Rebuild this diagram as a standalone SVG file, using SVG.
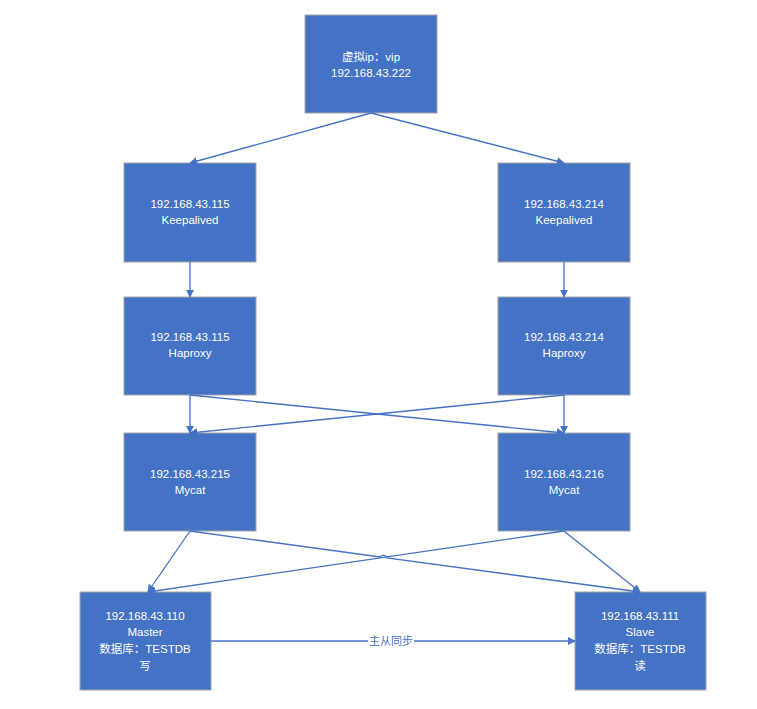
<svg xmlns="http://www.w3.org/2000/svg" width="757" height="709" viewBox="0 0 757 709">
<style>
.n{fill:#4472C4;stroke:#A5A5A5;stroke-width:1}
.t{font-family:"Liberation Sans","Noto Sans CJK SC",sans-serif;font-size:11.5px;fill:#fff;text-anchor:middle}
.c{stroke:#4472C4;stroke-width:1.3;fill:none;marker-end:url(#a)}
</style>
<defs><marker id="a" viewBox="0 0 10 10" refX="9" refY="5" markerWidth="8" markerHeight="8" orient="auto" markerUnits="userSpaceOnUse"><path d="M0,0L10,5L0,10z" fill="#4472C4"/></marker></defs>
<rect width="757" height="709" fill="#fff"/>
<g id="vip"><rect class="n" x="305" y="15" width="132" height="98"/><text class="t" x="371" y="61">虚拟ip：vip</text><text class="t" x="371" y="77">192.168.43.222</text></g>
<g id="k1"><rect class="n" x="124" y="163" width="132" height="99"/><text class="t" x="190" y="208">192.168.43.115</text><text class="t" x="190" y="224">Keepalived</text></g>
<g id="k2"><rect class="n" x="498" y="163" width="132" height="99"/><text class="t" x="564" y="208">192.168.43.214</text><text class="t" x="564" y="224">Keepalived</text></g>
<g id="h1"><rect class="n" x="124" y="297" width="132" height="98"/><text class="t" x="190" y="341">192.168.43.115</text><text class="t" x="190" y="357">Haproxy</text></g>
<g id="h2"><rect class="n" x="498" y="297" width="132" height="98"/><text class="t" x="564" y="341">192.168.43.214</text><text class="t" x="564" y="357">Haproxy</text></g>
<g id="m1"><rect class="n" x="124" y="433" width="132" height="98"/><text class="t" x="190" y="478">192.168.43.215</text><text class="t" x="190" y="494">Mycat</text></g>
<g id="m2"><rect class="n" x="498" y="433" width="132" height="98"/><text class="t" x="564" y="478">192.168.43.216</text><text class="t" x="564" y="494">Mycat</text></g>
<g id="master"><rect class="n" x="80" y="592" width="131" height="98"/><text class="t" x="145" y="620">192.168.43.110</text><text class="t" x="145" y="636">Master</text><text class="t" x="145" y="653">数据库：TESTDB</text><text class="t" x="145" y="670">写</text></g>
<g id="slave"><rect class="n" x="575" y="592" width="131" height="98"/><text class="t" x="640" y="620">192.168.43.111</text><text class="t" x="640" y="636">Slave</text><text class="t" x="640" y="653">数据库：TESTDB</text><text class="t" x="640" y="670">读</text></g>
<g id="connectors">
<path class="c" d="M371,113L190,163"/>
<path class="c" d="M371,113L564,163"/>
<path class="c" d="M190,262L190,297"/>
<path class="c" d="M564,262L564,297"/>
<path class="c" d="M190,395L190,433"/>
<path class="c" d="M190,395L564,433"/>
<path class="c" d="M564,395L564,433"/>
<path class="c" d="M564,395L190,433"/>
<path class="c" d="M190,531L148,592"/>
<path class="c" d="M190,531L380,557A4,4 0 0 1 387,558L640,592"/>
<path class="c" d="M564,531L148,592"/>
<path class="c" d="M564,531L640,592"/>
<path class="c" d="M211,641L575,641"/>
<rect x="368" y="633" width="46" height="15" fill="#fff"/>
<text x="391" y="645" style="font-family:'Noto Sans CJK SC',sans-serif;font-size:11px;fill:#4472C4;text-anchor:middle">主从同步</text>
</g>
</svg>
